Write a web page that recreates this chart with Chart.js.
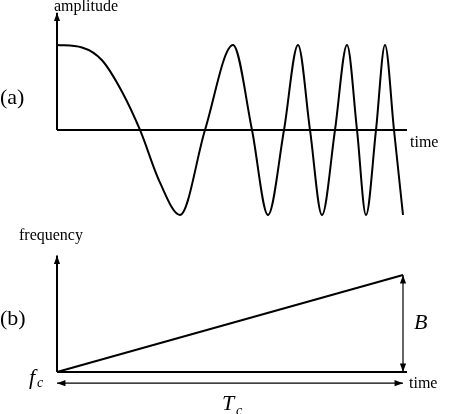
<!DOCTYPE html>
<html><head><meta charset="utf-8">
<script src="https://cdn.jsdelivr.net/npm/chart.js@4/dist/chart.umd.min.js"></script>
<style>html,body{margin:0;padding:0;background:#fff}#w{width:474px;height:414px;position:relative}</style>
</head><body><div id="w"><canvas id="c"></canvas></div>
<script>
// waveform: time (arbitrary units), amplitude
const waveTime = [0,25,45,65,83,103,123,148,176,195,211,227,241,253,265,278,290,300,309,319,328,337,346];
const waveAmp  = [1,0.97,0.82,0.45,0,-0.62,-1,0,1,0,-1,0,1,0,-1,0,1,0,-1,0,1,0,-1];
// frequency ramp
const freqTime = [0,346];
const freqVal  = [0,1];
const labels = {amp:"amplitude",time:"time",freq:"frequency",a:"(a)",b:"(b)",B:"B",fc:"f",Tc:"T"};

const wave = waveTime.map((t,i)=>({x:t,y:waveAmp[i]}));
const ramp = freqTime.map((t,i)=>({x:t,y:freqVal[i]}));

function arrow(ctx,x1,y1,x2,y2){
  const a=Math.atan2(y2-y1,x2-x1),L=9,W=0.35;
  ctx.beginPath();ctx.moveTo(x2,y2);
  ctx.lineTo(x2-L*Math.cos(a-W),y2-L*Math.sin(a-W));
  ctx.lineTo(x2-L*Math.cos(a+W),y2-L*Math.sin(a+W));ctx.closePath();ctx.fill();
}
function line(ctx,x1,y1,x2,y2){ctx.beginPath();ctx.moveTo(x1,y1);ctx.lineTo(x2,y2);ctx.stroke();}

const deco={id:'deco',afterDatasetsDraw(ch){
  const c=ch.ctx,X=ch.scales.x,A=ch.scales.ya,F=ch.scales.yf;
  c.save();c.strokeStyle='#000';c.fillStyle='#000';c.lineWidth=2;
  const x0=X.getPixelForValue(0),xe=X.getPixelForValue(346);
  line(c,x0,A.getPixelForValue(0),x0,A.getPixelForValue(1.38));
  arrow(c,x0,A.getPixelForValue(0),x0,A.getPixelForValue(1.38));
  line(c,x0,A.getPixelForValue(0),X.getPixelForValue(350),A.getPixelForValue(0));
  line(c,x0,F.getPixelForValue(0),x0,F.getPixelForValue(1.2));
  arrow(c,x0,F.getPixelForValue(0),x0,F.getPixelForValue(1.2));
  line(c,x0,F.getPixelForValue(0),X.getPixelForValue(350),F.getPixelForValue(0));
  c.lineWidth=1.2;
  const yb0=F.getPixelForValue(0),yb1=F.getPixelForValue(1);
  line(c,xe,yb0,xe,yb1);arrow(c,xe,yb1+1,xe,yb1);
  arrow(c,xe,yb0-1,xe,yb0);
  const yt=F.getPixelForValue(-0.115);
  line(c,x0,yt,xe,yt);arrow(c,x0+1,yt,x0,yt);arrow(c,xe-1,yt,xe,yt);
  c.textBaseline='alphabetic';
  c.font='16px "Liberation Serif"';
  c.fillText(labels.amp,X.getPixelForValue(-3),A.getPixelForValue(1.4));
  c.fillText(labels.time,X.getPixelForValue(353),A.getPixelForValue(-0.2));
  c.fillText(labels.freq,X.getPixelForValue(-38),F.getPixelForValue(1.36));
  c.fillText(labels.time,X.getPixelForValue(352),F.getPixelForValue(-0.16));
  c.font='22px "Liberation Serif"';
  c.fillText(labels.a,X.getPixelForValue(-57),A.getPixelForValue(0.3));
  c.fillText(labels.b,X.getPixelForValue(-57),F.getPixelForValue(0.48));
  c.font='italic 22px "Liberation Serif"';
  c.fillText(labels.B,X.getPixelForValue(357),F.getPixelForValue(0.44));
  c.fillText(labels.fc,X.getPixelForValue(-28),F.getPixelForValue(-0.12));
  c.fillText(labels.Tc,X.getPixelForValue(165),F.getPixelForValue(-0.39));
  c.font='italic 14px "Liberation Serif"';
  c.fillText('c',X.getPixelForValue(-20),F.getPixelForValue(-0.15));
  c.fillText('c',X.getPixelForValue(179),F.getPixelForValue(-0.44));
  c.restore();
}};

new Chart(document.getElementById('c'),{
  type:'line',
  data:{datasets:[
    {data:wave,yAxisID:'ya',borderColor:'#000',borderWidth:2,pointRadius:0,cubicInterpolationMode:'monotone',fill:false},
    {data:ramp,yAxisID:'yf',borderColor:'#000',borderWidth:2,pointRadius:0,tension:0,fill:false}
  ]},
  options:{responsive:true,maintainAspectRatio:false,animation:false,
    layout:{padding:0},
    plugins:{legend:{display:false},tooltip:{enabled:false}},
    scales:{
      x:{type:'linear',min:-57,max:417,display:false},
      ya:{min:-3.341,max:1.529,display:false},
      yf:{min:-0.433,max:3.835,display:false}
    }},
  plugins:[deco]
});
</script></body></html>
